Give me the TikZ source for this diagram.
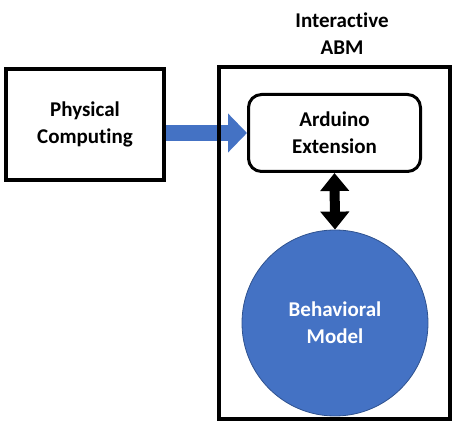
\documentclass[tikz,border=0pt]{standalone}
\usepackage{fontspec}
\setmainfont{Carlito}[Ligatures=NoCommon]
\usepackage{tikz}
\usetikzlibrary{shapes.geometric, arrows.meta, positioning}
\usepackage{xcolor}
\definecolor{officeBlue}{RGB}{68, 114, 196}
\definecolor{officeDarkBlue}{RGB}{47, 82, 143}

\begin{document}
\begin{tikzpicture}
    [
        x=1pt, y=-1pt,
        caption/.style={
            font=\fontsize{21}{27}\selectfont\bfseries, align=center
        },
        boxed/.style={
            draw, rectangle, line width=3.5pt, caption
        },
        link/.style={
            line width=16pt, officeBlue,
            -{Triangle[width=38pt, length=19pt]}
        },
        twoway/.style={
            line width=10pt, black,
            {Triangle[width=28pt, length=18pt]}-{Triangle[width=28pt, length=18pt]}
        }
    ]

\useasboundingbox (0,0) rectangle (456,427);

% Nodes
\node (physical) [
        boxed, minimum width=158pt, minimum height=111pt
    ] at (85,124.5) {Physical\\Computing};

\node (arduino) [
        boxed, line width=3pt, rounded corners=13pt,
        minimum width=172pt, minimum height=77pt
    ] at (334.5,133) {Arduino\\Extension};

\node (model) [
        circle, caption, fill=officeBlue, draw=officeDarkBlue,
        line width=0.8pt, text=white, minimum size=186pt
    ] at (335,323) {Behavioral\\Model};

% Connectors
\draw [link, yshift=3pt] (physical.east |- arduino.west) -- (arduino.west);
\draw [twoway] (arduino.south) -- (model.north);

% Frame and title
\node (abm) [
        boxed, minimum width=231pt, minimum height=352pt
    ] at (334.5,243) {};

\node (title) [caption] at (342,34) {Interactive\\ABM};

\end{tikzpicture}
\end{document}
